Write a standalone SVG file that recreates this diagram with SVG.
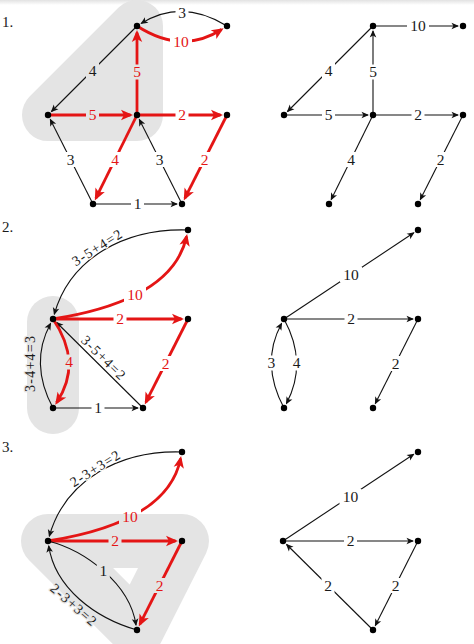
<svg xmlns="http://www.w3.org/2000/svg" width="474" height="644" viewBox="0 0 474 644">
<style>
.reg{fill:#e4e4e4;stroke:#e4e4e4;stroke-linejoin:round}
.k{fill:none;stroke:#111;stroke-width:1.1;marker-end:url(#ak)}
.r{fill:none;stroke:#e41515;stroke-width:2.8;marker-end:url(#ar)}
.dot{fill:#000}
text{font-family:"Liberation Serif","DejaVu Serif",serif;font-size:15.5px;text-anchor:middle}
.lk{fill:#1a1a1a}
.lr{fill:#e41515}
.num{fill:#1a1a1a;font-size:15px;text-anchor:start}
.c{fill:#1a1a1a;font-size:14px;paint-order:stroke;stroke:#fff;stroke-width:2.5;stroke-linejoin:round}
.cg{stroke:#e4e4e4}
</style>
<defs>
<marker id="ak" markerUnits="userSpaceOnUse" viewBox="-8 -5 10 10" refX="0" refY="0" markerWidth="10" markerHeight="10" orient="auto">
<path d="M1,0 L-6.5,-3.3 L-4.6,0 L-6.5,3.3 Z" fill="#111"/>
</marker>
<marker id="ar" markerUnits="userSpaceOnUse" viewBox="-11 -7 15 14" refX="0" refY="0" markerWidth="15" markerHeight="14" orient="auto">
<path d="M2.5,0 L-9.5,-5.2 L-6.5,0 L-9.5,5.2 Z" fill="#e41515"/>
</marker>
<linearGradient id="topg" x1="0" y1="0" x2="0" y2="1">
<stop offset="0" stop-color="#e2e2e2"/><stop offset="1" stop-color="#fff"/>
</linearGradient>
<mask id="holes" maskUnits="userSpaceOnUse" x="0" y="0" width="474" height="644">
<rect x="0" y="0" width="474" height="644" fill="#fff"/>
<g fill="#000">
<rect x="175.5" y="5" width="13" height="15"/>
<rect x="170" y="34" width="22" height="15"/>
<rect x="86" y="63" width="13" height="15"/>
<rect x="130.5" y="64.5" width="13" height="15"/>
<rect x="86" y="107.5" width="13" height="15"/>
<rect x="175.5" y="107.5" width="13" height="15"/>
<rect x="108.5" y="152" width="13" height="15"/>
<rect x="198" y="152" width="13" height="15"/>
<rect x="64" y="152" width="13" height="15"/>
<rect x="153" y="152" width="13" height="15"/>
<rect x="131" y="196.5" width="13" height="15"/>
<rect x="407" y="18.5" width="22" height="15"/>
<rect x="322" y="63" width="13" height="15"/>
<rect x="366.5" y="64.5" width="13" height="15"/>
<rect x="322" y="107.5" width="13" height="15"/>
<rect x="411.5" y="107.5" width="13" height="15"/>
<rect x="344.5" y="152" width="13" height="15"/>
<rect x="434" y="152" width="13" height="15"/>
<rect x="124" y="287" width="22" height="15"/>
<rect x="113.5" y="311.5" width="13" height="15"/>
<rect x="159" y="356" width="13" height="15"/>
<rect x="91.5" y="400.5" width="13" height="15"/>
<rect x="62.5" y="354.5" width="13" height="15"/>
<rect x="340" y="267" width="22" height="15"/>
<rect x="344.5" y="311.5" width="13" height="15"/>
<rect x="389" y="356" width="13" height="15"/>
<rect x="264.9" y="355.5" width="13" height="15"/>
<rect x="290.1" y="355.5" width="13" height="15"/>
<rect x="119" y="509" width="22" height="15"/>
<rect x="108.5" y="533.5" width="13" height="15"/>
<rect x="153" y="578" width="13" height="15"/>
<rect x="96.8" y="563" width="13" height="15"/>
<rect x="339.5" y="489" width="22" height="15"/>
<rect x="344" y="533.5" width="13" height="15"/>
<rect x="389" y="578" width="13" height="15"/>
<rect x="321.5" y="578" width="13" height="15"/>
</g>
</mask>
</defs>
<rect x="0" y="0" width="474" height="644" fill="#fff"/>
<rect x="0" y="0" width="474" height="5" fill="url(#topg)"/>

<g id="regions">
<polygon class="reg" points="137,26 48,115 137,115" stroke-width="52"/>
<rect x="27" y="296" width="52" height="138" rx="26" fill="#e4e4e4"/>
<polygon points="48,541 182,541 137,630" fill="none" stroke="#e4e4e4" stroke-width="54" stroke-linejoin="round"/>
</g>

<g id="step-numbers">
<text class="num" x="2" y="27">1.</text>
<text class="num" x="2" y="232">2.</text>
<text class="num" x="2" y="452">3.</text>
</g>

<g id="connectors" mask="url(#holes)">
<path class="k" d="M227,26 Q182,-2 141.2,23.4"/>
<path class="r" d="M137,26 Q182,55 221.5,29.5"/>
<path class="k" d="M137,26 L51.5,111.5"/>
<path class="r" d="M137,115 L137,32.5"/>
<path class="r" d="M48,115 L130.5,115"/>
<path class="r" d="M137,115 L220.5,115"/>
<path class="r" d="M137,115 L95.9,198.2"/>
<path class="r" d="M227,115 L184.9,198.2"/>
<path class="k" d="M93,204 L50.3,119.5"/>
<path class="k" d="M182,204 L139.3,119.5"/>
<path class="k" d="M93,204 L177,204"/>
<path class="k" d="M373,26 L458,26"/>
<path class="k" d="M373,26 L287.5,111.5"/>
<path class="k" d="M373,115 L373,31"/>
<path class="k" d="M284,115 L368,115"/>
<path class="k" d="M373,115 L458,115"/>
<path class="k" d="M373,115 L331.2,199.5"/>
<path class="k" d="M463,115 L420.3,199.5"/>
<path class="k" d="M188,230 C125,228 70,258 54.3,314.2"/>
<path class="r" d="M53,319 C110,310 175,290 186.6,236.4"/>
<path class="r" d="M53,319 L181.5,319"/>
<path class="r" d="M188,319 L145.9,402.2"/>
<path class="k" d="M53,408 L138,408"/>
<path class="k" d="M143,408 L56.6,322.5"/>
<path class="k" d="M53,408 Q29,363 50.6,323.4"/>
<path class="r" d="M53,319 Q83,363 56.6,402.6"/>
<path class="k" d="M284,319 L413.8,232.8"/>
<path class="k" d="M284,319 L413,319"/>
<path class="k" d="M418,319 L375.3,403.5"/>
<path class="k" d="M284,408 Q260,363 281.6,323.4"/>
<path class="k" d="M284,319 Q308,363 286.4,403.6"/>
<path class="k" d="M182,452 C120,450 65,480 49.3,536.2"/>
<path class="r" d="M48,541 C105,532 170,512 180.6,458.4"/>
<path class="r" d="M48,541 L175.5,541"/>
<path class="r" d="M182,541 L139.9,624.2"/>
<path class="k" d="M48,541 C84,550 130,583 136,625.1"/>
<path class="k" d="M137,630 C95,618 55,588 48.7,545.9"/>
<path class="k" d="M283,541 L413.7,454.2"/>
<path class="k" d="M283,541 L413,541"/>
<path class="k" d="M418,541 L375.3,625.5"/>
<path class="k" d="M373,630 L286.6,544.5"/>
</g>

<g id="nodes">
<g id="n1-A"><circle class="dot" cx="137" cy="26" r="3.2"/></g>
<g id="n1-B"><circle class="dot" cx="227" cy="26" r="3.2"/></g>
<g id="n1-C"><circle class="dot" cx="48" cy="115" r="3.2"/></g>
<g id="n1-D"><circle class="dot" cx="137" cy="115" r="3.2"/></g>
<g id="n1-E"><circle class="dot" cx="227" cy="115" r="3.2"/></g>
<g id="n1-F"><circle class="dot" cx="93" cy="204" r="3.2"/></g>
<g id="n1-G"><circle class="dot" cx="182" cy="204" r="3.2"/></g>
<g id="t1-A"><circle class="dot" cx="373" cy="26" r="3.2"/></g>
<g id="t1-B"><circle class="dot" cx="463" cy="26" r="3.2"/></g>
<g id="t1-C"><circle class="dot" cx="284" cy="115" r="3.2"/></g>
<g id="t1-D"><circle class="dot" cx="373" cy="115" r="3.2"/></g>
<g id="t1-E"><circle class="dot" cx="463" cy="115" r="3.2"/></g>
<g id="t1-F"><circle class="dot" cx="329" cy="204" r="3.2"/></g>
<g id="t1-G"><circle class="dot" cx="418" cy="204" r="3.2"/></g>
<g id="n2-TR"><circle class="dot" cx="188" cy="230" r="3.2"/></g>
<g id="n2-L"><circle class="dot" cx="53" cy="319" r="3.2"/></g>
<g id="n2-R"><circle class="dot" cx="188" cy="319" r="3.2"/></g>
<g id="n2-BL"><circle class="dot" cx="53" cy="408" r="3.2"/></g>
<g id="n2-BR"><circle class="dot" cx="143" cy="408" r="3.2"/></g>
<g id="t2-TR"><circle class="dot" cx="418" cy="230" r="3.2"/></g>
<g id="t2-L"><circle class="dot" cx="284" cy="319" r="3.2"/></g>
<g id="t2-R"><circle class="dot" cx="418" cy="319" r="3.2"/></g>
<g id="t2-BL"><circle class="dot" cx="284" cy="408" r="3.2"/></g>
<g id="t2-BR"><circle class="dot" cx="373" cy="408" r="3.2"/></g>
<g id="n3-TR"><circle class="dot" cx="182" cy="452" r="3.2"/></g>
<g id="n3-L"><circle class="dot" cx="48" cy="541" r="3.2"/></g>
<g id="n3-R"><circle class="dot" cx="182" cy="541" r="3.2"/></g>
<g id="n3-B"><circle class="dot" cx="137" cy="630" r="3.2"/></g>
<g id="t3-TR"><circle class="dot" cx="418" cy="452" r="3.2"/></g>
<g id="t3-L"><circle class="dot" cx="283" cy="541" r="3.2"/></g>
<g id="t3-R"><circle class="dot" cx="418" cy="541" r="3.2"/></g>
<g id="t3-B"><circle class="dot" cx="373" cy="630" r="3.2"/></g>
</g>

<g id="labels" font-family="Liberation Serif, DejaVu Serif, serif">
<text class="lk" x="182" y="17.8">3</text>
<text class="lr" x="181" y="46.8">10</text>
<text class="lk" x="92.5" y="75.8">4</text>
<text class="lr" x="137" y="77.3">5</text>
<text class="lr" x="92.5" y="120.3">5</text>
<text class="lr" x="182" y="120.3">2</text>
<text class="lr" x="115" y="164.8">4</text>
<text class="lr" x="204.5" y="164.8">2</text>
<text class="lk" x="70.5" y="164.8">3</text>
<text class="lk" x="159.5" y="164.8">3</text>
<text class="lk" x="137.5" y="209.3">1</text>
<text class="lk" x="418" y="31.3">10</text>
<text class="lk" x="328.5" y="75.8">4</text>
<text class="lk" x="373" y="77.3">5</text>
<text class="lk" x="328.5" y="120.3">5</text>
<text class="lk" x="418" y="120.3">2</text>
<text class="lk" x="351" y="164.8">4</text>
<text class="lk" x="440.5" y="164.8">2</text>
<text class="c" transform="translate(97,247.5) rotate(-32)" x="0" y="4.8" textLength="56" lengthAdjust="spacing">3-5+4=2</text>
<text class="lr" x="135" y="299.7">10</text>
<text class="lr" x="120" y="324.3">2</text>
<text class="lr" x="165.5" y="368.8">2</text>
<text class="lk" x="98" y="413.3">1</text>
<text class="c" transform="translate(103.5,357.5) rotate(44.7)" x="0" y="4.8" textLength="56" lengthAdjust="spacing">3-5+4=2</text>
<text class="c cg" transform="translate(30.5,364) rotate(-90)" x="0" y="4.8" textLength="56" lengthAdjust="spacing">3-4+4=3</text>
<text class="lr" x="69" y="367.3">4</text>
<text class="lk" x="351" y="279.8">10</text>
<text class="lk" x="351" y="324.3">2</text>
<text class="lk" x="395.5" y="368.8">2</text>
<text class="lk" x="271.4" y="368.3">3</text>
<text class="lk" x="296.6" y="368.3">4</text>
<text class="c" transform="translate(95,468.5) rotate(-32)" x="0" y="4.8" textLength="56" lengthAdjust="spacing">2-3+3=2</text>
<text class="lr" x="130" y="521.7">10</text>
<text class="lr" x="115" y="546.3">2</text>
<text class="lr" x="159.5" y="590.8">2</text>
<text class="lk" x="103.3" y="575.9">1</text>
<text class="c cg" transform="translate(73.5,604.5) rotate(41)" x="0" y="4.8" textLength="56" lengthAdjust="spacing">2-3+3=2</text>
<text class="lk" x="350.5" y="501.8">10</text>
<text class="lk" x="350.5" y="546.3">2</text>
<text class="lk" x="395.5" y="590.8">2</text>
<text class="lk" x="328" y="590.8">2</text>
</g>
</svg>
